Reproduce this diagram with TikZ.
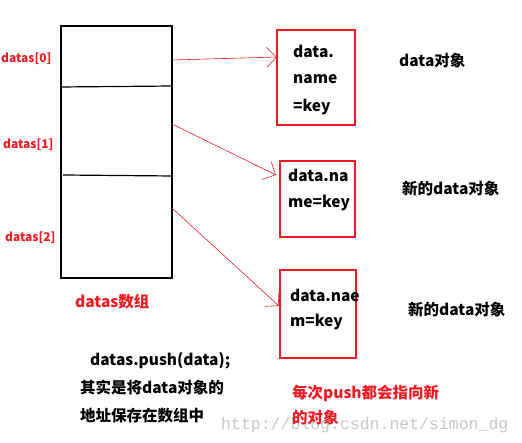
\documentclass[tikz,border=0pt]{standalone}
\usepackage{fontspec}
\setmainfont{Noto Sans CJK SC}
\newfontfamily\wmfont{Liberation Mono}
\usetikzlibrary{arrows.meta}
\definecolor{pred}{RGB}{237,28,36}
\definecolor{wmgray}{RGB}{200,200,200}
\tikzset{
  txt/.style={anchor=west,inner sep=0pt,font=\fontsize{15.5}{18}\selectfont\bfseries},
  redtxt/.style={txt,text=pred},
  objbox/.style={draw=pred,line width=1.1pt,inner sep=0pt},
  ptr/.style={draw=pred,line width=0.6pt,-{Straight Barb[length=10pt,width=20pt,line width=0.6pt]}},
}
\begin{document}
\begin{tikzpicture}[x=1pt,y=-1pt]
\useasboundingbox (0,0) rectangle (522,443);
\fill[white] (0,0) rectangle (522,443);
% array
\node[draw=black,line width=1.4pt,minimum width=111pt,minimum height=252pt,inner sep=0pt] (arr) at (116.5,152) {};
\draw[line width=1.2pt] (arr.west |- 0,87) -- (arr.east |- 0,86);
\draw[line width=1.2pt] (63,175) -- (173,176);
\node[redtxt,font=\fontsize{12}{14}\selectfont\bfseries] (l0) at (1,59) {datas[0]};
\node[redtxt,font=\fontsize{12}{14}\selectfont\bfseries] (l1) at (3,145) {datas[1]};
\node[redtxt,font=\fontsize{12}{14}\selectfont\bfseries] (l2) at (5,238) {datas[2]};
\node[redtxt] (arrname) at (75,302) {datas数组};
% object boxes
\node[objbox,minimum width=78pt,minimum height=95pt] (b1) at (316,77.5) {};
\node[objbox,minimum width=75pt,minimum height=76pt] (b2) at (317.5,199) {};
\node[objbox,minimum width=76pt,minimum height=88pt] (b3) at (318,314) {};
\node[txt] (t1a) at (293,51) {data.};
\node[txt] (t1b) at (293,79) {name};
\node[txt] (t1c) at (293,107) {=key};
\node[txt] (t2a) at (288,175) {data.na};
\node[txt] (t2b) at (288,203) {me=key};
\node[txt] (t3a) at (290,295) {data.nae};
\node[txt] (t3b) at (290,322) {m=key};
\node[txt] (o1) at (399,61) {data对象};
\node[txt] (o2) at (402,189) {新的data对象};
\node[txt] (o3) at (408,310) {新的data对象};
% pointers
\coordinate (s0) at (172,60);
\coordinate (s1) at (172,124);
\coordinate (s2) at (172,208);
\coordinate (e0) at (277,57);
\coordinate (e1) at (276,175);
\coordinate (e2) at (279,306);
\draw[ptr] (s0) -- (e0);
\draw[ptr] (s1) -- (e1);
\draw[ptr] (s2) -- (e2);
% bottom notes
\node[txt] (n1) at (90,361) {datas.push(data);};
\node[txt] (n2) at (80,388) {其实是将data对象的};
\node[txt] (n3) at (80,416) {地址保存在数组中};
\node[anchor=west,inner sep=0pt,text=wmgray,font=\wmfont\fontsize{16.5}{18}\selectfont] (wm) at (221,425) {http://blog.csdn.net/simon\_dg};
\node[redtxt] (r1) at (292,393) {每次push都会指向新};
\node[redtxt] (r2) at (292,418) {的对象};
\end{tikzpicture}
\end{document}
